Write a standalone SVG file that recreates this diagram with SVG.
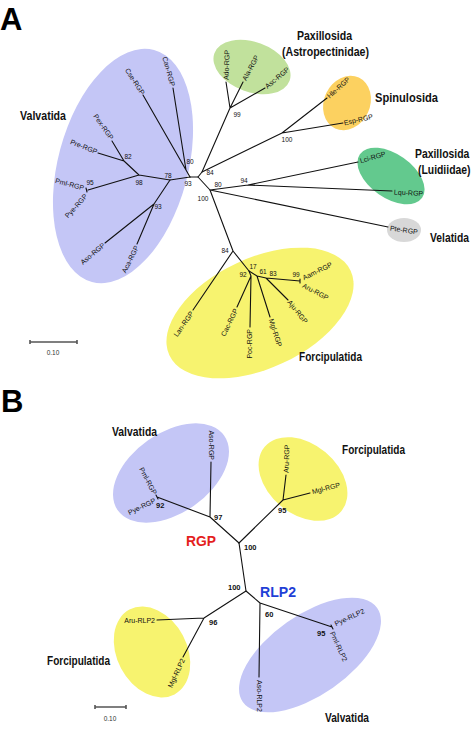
<svg xmlns="http://www.w3.org/2000/svg" width="474" height="729" viewBox="0 0 474 729">
<style>
.br{fill:none;stroke:#111;stroke-width:1.1;stroke-linecap:round;stroke-linejoin:round}
.tip{font-family:"Liberation Sans",Arial,sans-serif;font-size:7px;fill:#111}
.bs{font-family:"Liberation Sans",Arial,sans-serif;font-size:6.5px;fill:#111;text-anchor:middle}
.bsb{font-family:"Liberation Sans",Arial,sans-serif;font-size:7.5px;font-weight:bold;fill:#111}
.cl{font-family:"Liberation Sans",Arial,sans-serif;font-size:12px;font-weight:bold;fill:#111}
.cls{font-family:"Liberation Sans",Arial,sans-serif;font-size:10.4px;font-weight:bold;fill:#111}
.pl{font-family:"Liberation Sans",Arial,sans-serif;font-size:31px;font-weight:bold;fill:#000}
.sc{stroke:#555;stroke-width:1.6;fill:none}
.sct{font-family:"Liberation Sans",Arial,sans-serif;font-size:6.5px;fill:#333;text-anchor:middle}
.e{text-anchor:end}
.grp{font-family:"Liberation Sans",Arial,sans-serif;font-size:15px;font-weight:bold}
</style>
<rect width="474" height="729" fill="#fff"/>

<!-- Panel A -->
<text class="pl" x="0" y="30">A</text>

<g id="A-valvatida">
<ellipse cx="123" cy="166" rx="65" ry="120" transform="rotate(15 123 166)" fill="#c4c6f6"/>
<text class="cl" x="20" y="120" textLength="46" lengthAdjust="spacingAndGlyphs">Valvatida</text>
</g>
<g id="A-astropectinidae">
<ellipse cx="252" cy="67" rx="40" ry="25" transform="rotate(20 252 67)" fill="#c1e19c"/>
<text class="cl" x="297" y="40" textLength="55" lengthAdjust="spacingAndGlyphs">Paxillosida</text>
<text class="cl" x="282" y="56" textLength="87" lengthAdjust="spacingAndGlyphs">(Astropectinidae)</text>
</g>
<g id="A-spinulosida">
<ellipse cx="347" cy="103" rx="23" ry="28" transform="rotate(25 347 103)" fill="#fcd160"/>
<text class="cl" x="375" y="102" textLength="63" lengthAdjust="spacingAndGlyphs">Spinulosida</text>
</g>
<g id="A-luidiidae">
<ellipse cx="391" cy="176" rx="38" ry="22" transform="rotate(35 391 176)" fill="#63c98e"/>
<text class="cls" transform="translate(415,158) scale(1,1.15)">Paxillosida</text>
<text class="cls" transform="translate(418,174) scale(1,1.15)">(Luidiidae)</text>
</g>
<g id="A-velatida">
<ellipse cx="404" cy="230" rx="17" ry="12" fill="#d8d8d8"/>
<text class="cl" x="430" y="242" textLength="39" lengthAdjust="spacingAndGlyphs">Velatida</text>
</g>
<g id="A-forcipulatida">
<ellipse cx="260" cy="313" rx="100" ry="55" transform="rotate(-25 260 313)" fill="#f7f36f"/>
<text class="cl" x="299" y="361" textLength="63" lengthAdjust="spacingAndGlyphs">Forcipulatida</text>
</g>

<g id="A-connectors">
<path class="br" d="M190,177 L186,170 M186,170 L173,88 M186,170 L143,95"/>
<path class="br" d="M190,177 L170,180 L139,175 L124,161 M124,161 L112,141 M124,161 L98,153 M139,175 L88,190 M86,188 L87,192"/>
<path class="br" d="M170,180 L154,204 M154,204 L105,243 M154,204 L137,244"/>
<path class="br" d="M190,177 L198,177 L202,172 L230,108 M230,108 L226,82 M230,108 L243,82 M230,108 L265,88"/>
<path class="br" d="M202,172 L282,133 M282,133 L327,98 M282,133 L343,123"/>
<path class="br" d="M198,177 L210,190 L248,185 M248,185 L358,162 M248,185 L392,191 M210,190 L388,227"/>
<path class="br" d="M210,190 L233,251 L193,310 M233,251 L249,271 L251,276 M251,276 L237,307 M251,276 L250,327"/>
<path class="br" d="M249,271 L257,276 L270,317 M257,276 L266,278 L288,300 M266,278 L300,281 M300,279 L300,283"/>
</g>

<g id="A-tips">
<text class="tip e" dy="0.35em" transform="translate(173,86) rotate(74)">Can-RGP</text>
<text class="tip e" dy="0.35em" transform="translate(143,94) rotate(57)">Cse-RGP</text>
<text class="tip e" dy="0.35em" transform="translate(112,139) rotate(55)">Pex-RGP</text>
<text class="tip e" dy="0.35em" transform="translate(97,152) rotate(22)">Pre-RGP</text>
<text class="tip e" dy="0.35em" transform="translate(84,188) rotate(15)">Pml-RGP</text>
<text class="tip e" dy="0.35em" transform="translate(86,195) rotate(-48)">Pye-RGP</text>
<text class="tip e" dy="0.35em" transform="translate(104,244) rotate(-40)">Aso-RGP</text>
<text class="tip e" dy="0.35em" transform="translate(137,246) rotate(-63)">Aca-RGP</text>
<text class="tip" dy="0.35em" transform="translate(226,80) rotate(-88)">Ado-RGP</text>
<text class="tip" dy="0.35em" transform="translate(244,80) rotate(-62)">Ala-RGP</text>
<text class="tip" dy="0.35em" transform="translate(266,87) rotate(-40)">Asc-RGP</text>
<text class="tip" dy="0.35em" transform="translate(328,97) rotate(-42)">Hle-RGP</text>
<text class="tip" dy="0.35em" transform="translate(344,123) rotate(-13)">Esp-RGP</text>
<text class="tip" dy="0.35em" transform="translate(360,161) rotate(-16)">Lci-RGP</text>
<text class="tip" dy="0.35em" transform="translate(394,192) rotate(3)">Lqu-RGP</text>
<text class="tip" dy="0.35em" transform="translate(390,228) rotate(8)">Pte-RGP</text>
<text class="tip e" dy="0.35em" transform="translate(192,312) rotate(-55)">Lan-RGP</text>
<text class="tip e" dy="0.35em" transform="translate(236,309) rotate(-64)">Cac-RGP</text>
<text class="tip e" dy="0.35em" transform="translate(250,329) rotate(-90)">Poc-RGP</text>
<text class="tip" dy="0.35em" transform="translate(271,319) rotate(72)">Mgl-RGP</text>
<text class="tip" dy="0.35em" transform="translate(289,301) rotate(51)">Aju-RGP</text>
<text class="tip" dy="0.35em" transform="translate(303,278) rotate(-26)">Aam-RGP</text>
<text class="tip" dy="0.35em" transform="translate(303,285) rotate(28)">Aru-RGP</text>
</g>

<g id="A-bootstrap">
<text class="bs" x="190" y="164">80</text>
<text class="bs" x="128" y="159">82</text>
<text class="bs" x="90" y="185">95</text>
<text class="bs" x="139" y="185">98</text>
<text class="bs" x="168" y="178">78</text>
<text class="bs" x="188" y="186">93</text>
<text class="bs" x="158" y="209">93</text>
<text class="bs" x="210" y="175">84</text>
<text class="bs" x="237" y="117">99</text>
<text class="bs" x="287" y="142">100</text>
<text class="bs" x="218" y="187">80</text>
<text class="bs" x="244" y="183">94</text>
<text class="bs" x="203" y="201">100</text>
<text class="bs" x="225" y="253">84</text>
<text class="bs" x="253" y="269">17</text>
<text class="bs" x="243" y="277">92</text>
<text class="bs" x="263" y="274">61</text>
<text class="bs" x="273" y="276">83</text>
<text class="bs" x="296" y="277">99</text>
</g>

<g id="A-scale">
<path class="sc" d="M30,342 H77 M30,340 V344 M77,340 V344"/>
<text class="sct" x="53" y="355">0.10</text>
</g>

<!-- Panel B -->
<text class="pl" x="1" y="412">B</text>

<g id="B-valvatida-rgp">
<ellipse cx="171" cy="473" rx="65" ry="40" transform="rotate(-35 171 473)" fill="#c4c6f6"/>
<text class="cl" x="112" y="436" textLength="45" lengthAdjust="spacingAndGlyphs">Valvatida</text>
</g>
<g id="B-forcipulatida-rgp">
<ellipse cx="303" cy="479" rx="50" ry="35" transform="rotate(40 303 479)" fill="#f7f36f"/>
<text class="cl" x="342" y="454" textLength="63" lengthAdjust="spacingAndGlyphs">Forcipulatida</text>
</g>
<g id="B-forcipulatida-rlp2">
<ellipse cx="152" cy="652" rx="35" ry="48" transform="rotate(-28 152 652)" fill="#f7f36f"/>
<text class="cl" x="47" y="665" textLength="63" lengthAdjust="spacingAndGlyphs">Forcipulatida</text>
</g>
<g id="B-valvatida-rlp2">
<ellipse cx="310" cy="655" rx="82" ry="40" transform="rotate(-35 310 655)" fill="#c4c6f6"/>
<text class="cl" x="325" y="722" textLength="44" lengthAdjust="spacingAndGlyphs">Valvatida</text>
</g>

<g id="B-connectors">
<path class="br" d="M239,543 L210,517 L211,462 M210,517 L157,497 M156,495 L158,499"/>
<path class="br" d="M239,543 L283,500 L286,475 M283,500 L310,493"/>
<path class="br" d="M239,543 L246,591 L204,618 L157,620 M204,618 L183,657"/>
<path class="br" d="M246,591 L260,603 L259,677 M260,603 L332,627 M331,625 L333,629"/>
</g>

<g id="B-tips">
<text class="tip e" dy="0.35em" transform="translate(211,460) rotate(90)">Aso-RGP</text>
<text class="tip e" dy="0.35em" transform="translate(155,494) rotate(62)">Pml-RGP</text>
<text class="tip e" dy="0.35em" transform="translate(155,500) rotate(-26)">Pye-RGP</text>
<text class="tip" dy="0.35em" transform="translate(286,473) rotate(-88)">Aru-RGP</text>
<text class="tip" dy="0.35em" transform="translate(312,492) rotate(-15)">Mgl-RGP</text>
<text class="tip e" dy="0.35em" transform="translate(155,621)">Aru-RLP2</text>
<text class="tip e" dy="0.35em" transform="translate(183,659) rotate(-65)">Mgl-RLP2</text>
<text class="tip" dy="0.35em" transform="translate(259,680) rotate(90)">Aso-RLP2</text>
<text class="tip" dy="0.35em" transform="translate(335,624) rotate(-25)">Pye-RLP2</text>
<text class="tip" dy="0.35em" transform="translate(332,632) rotate(65)">Pml-RLP2</text>
</g>

<g id="B-bootstrap">
<text class="bsb" x="214" y="520">97</text>
<text class="bsb" x="156" y="508">92</text>
<text class="bsb" x="278" y="513">95</text>
<text class="bsb" x="244" y="550">100</text>
<text class="bsb" x="228" y="590">100</text>
<text class="bsb" x="209" y="625">96</text>
<text class="bsb" x="265" y="617">60</text>
<text class="bsb" x="317" y="636">95</text>
</g>

<g id="B-groups">
<text class="grp" x="186" y="546" fill="#e41e1e" textLength="30" lengthAdjust="spacingAndGlyphs">RGP</text>
<text class="grp" x="260" y="597" fill="#1f3fd6" textLength="36" lengthAdjust="spacingAndGlyphs">RLP2</text>
</g>

<g id="B-scale">
<path class="sc" d="M95,707 H126 M95,705 V709 M126,705 V709"/>
<text class="sct" x="110" y="721">0.10</text>
</g>
</svg>
